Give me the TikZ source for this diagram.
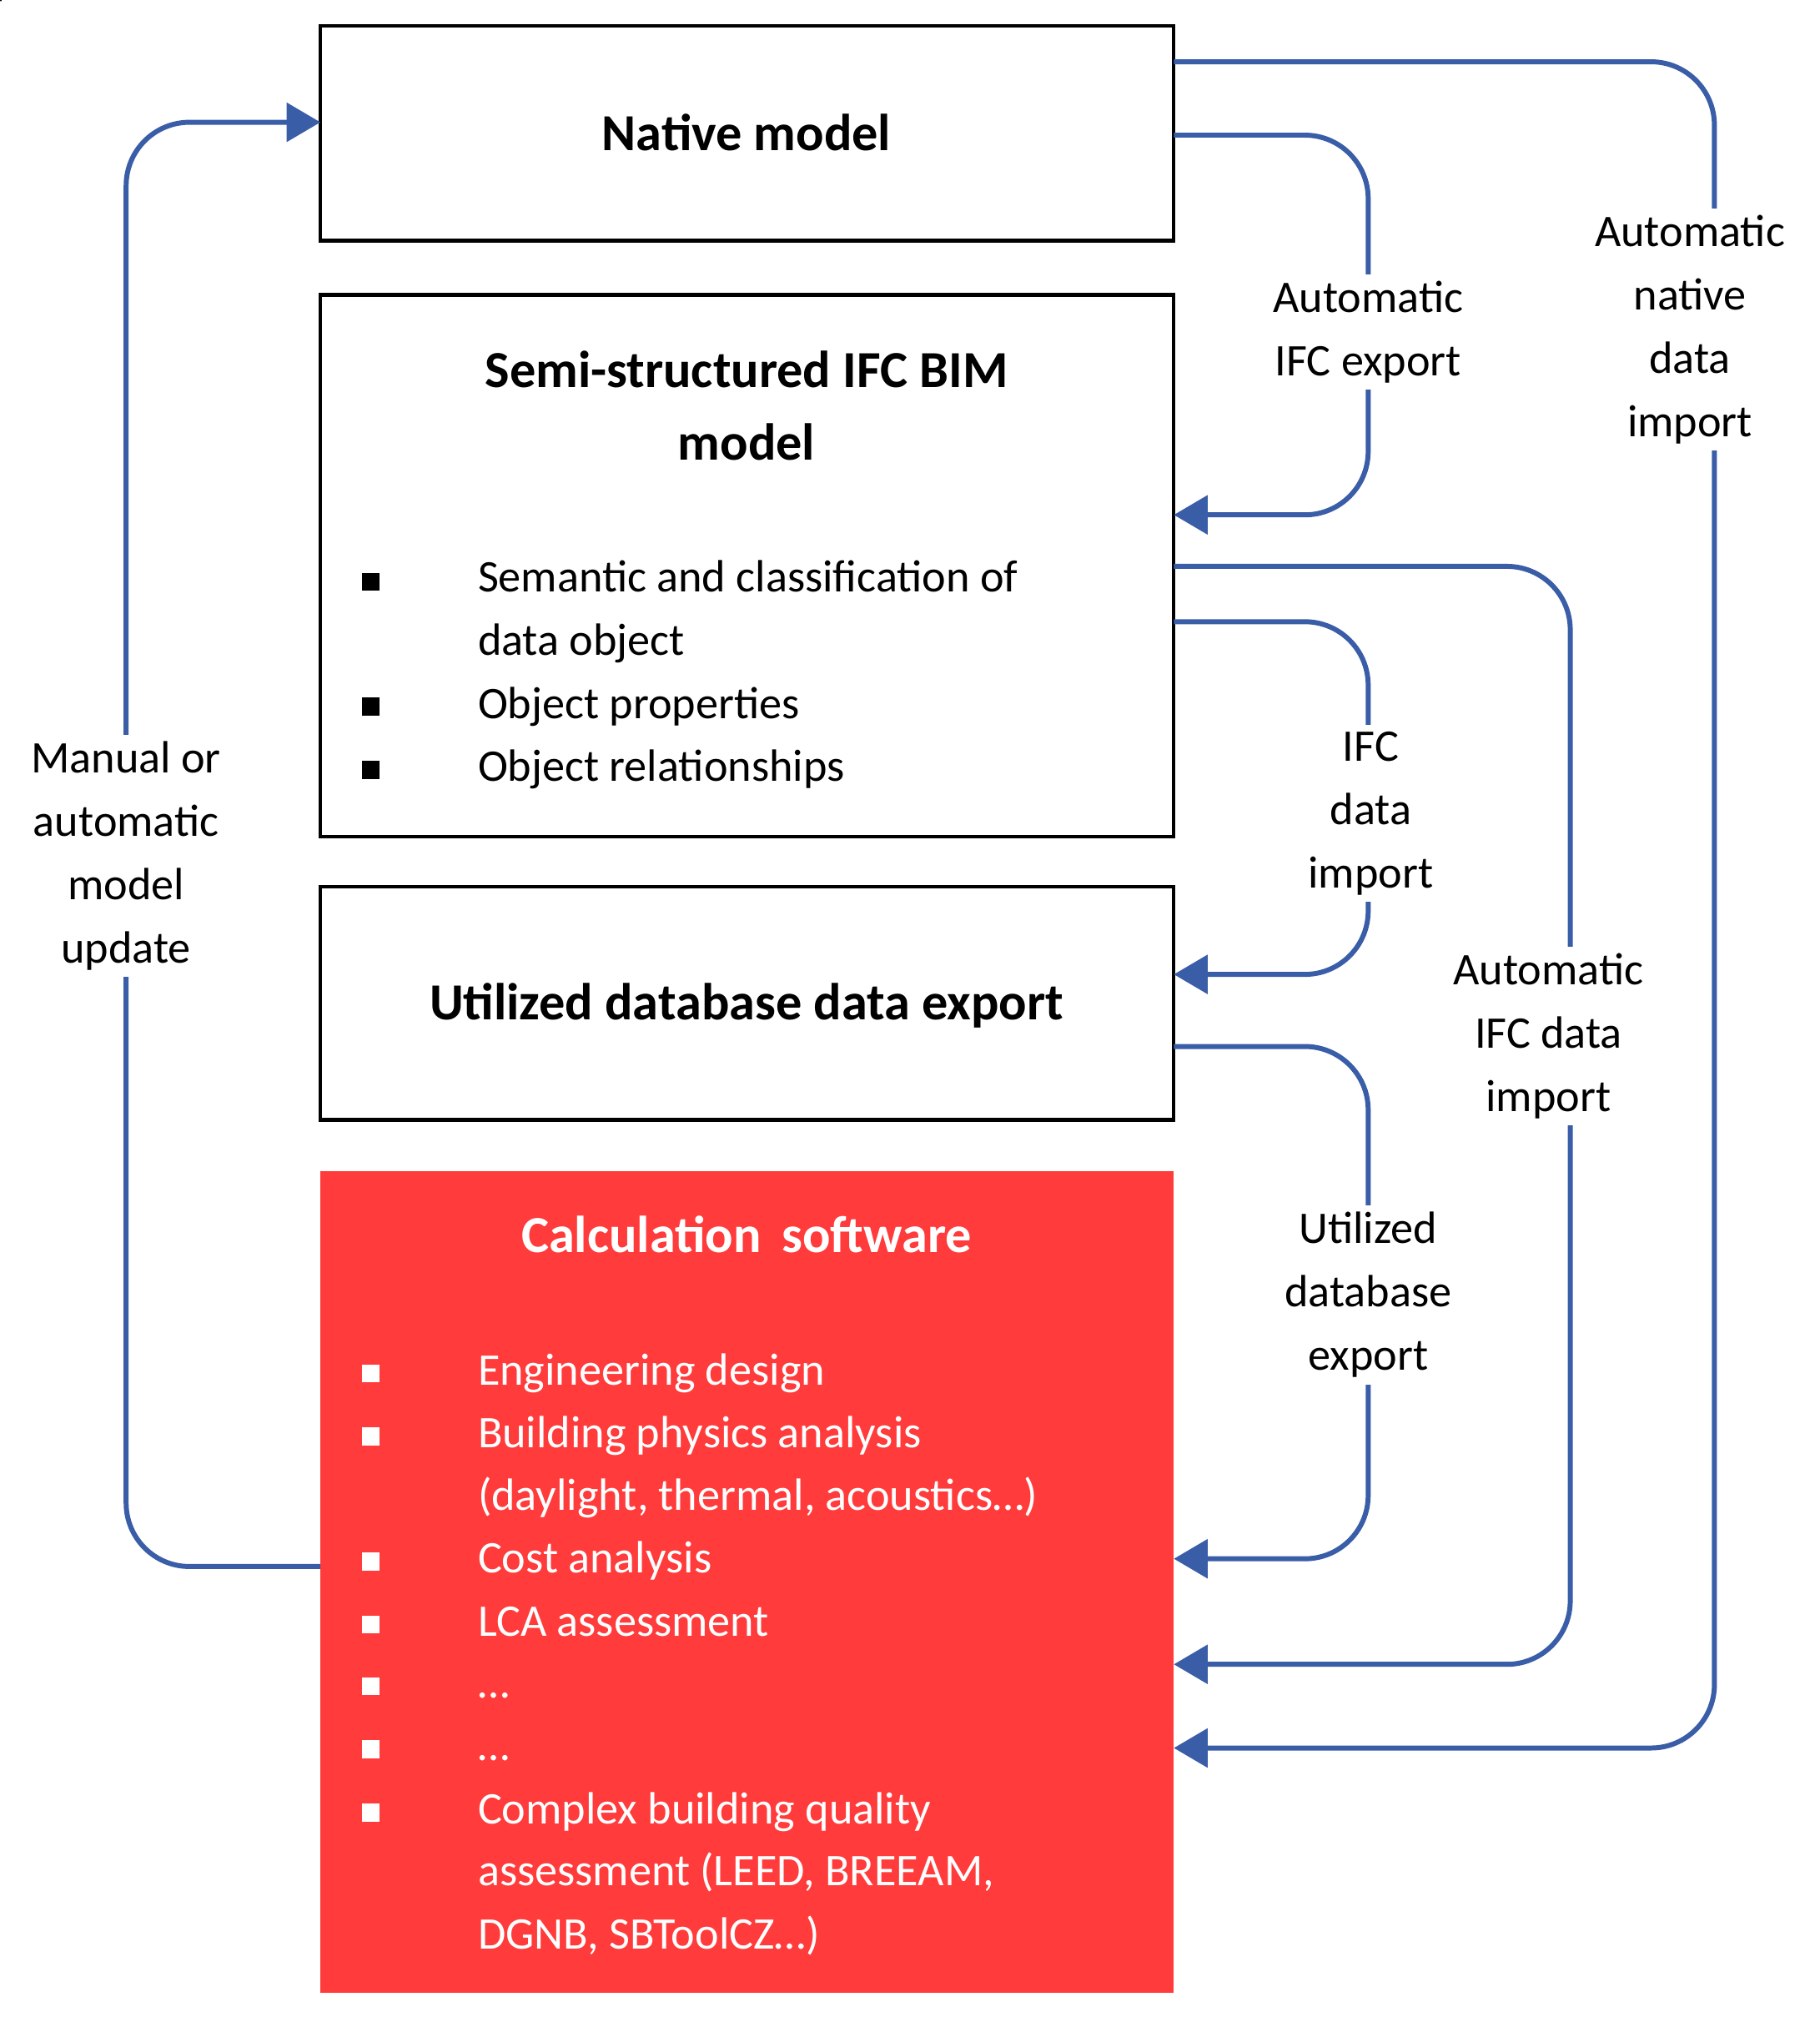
\documentclass[tikz,border=0pt]{standalone}
\usepackage{fontspec}
\setmainfont{Carlito}
\usetikzlibrary{arrows.meta}
\definecolor{ablue}{HTML}{3A5DA8}
\definecolor{cred}{HTML}{FF3B3B}
\begin{document}
\begin{tikzpicture}[x=0.02cm,y=-0.02cm,
 box/.style={draw=black,line width=1.6pt},
 conn/.style={draw=ablue,line width=2.2pt,rounded corners=28pt},
 arr/.style={conn,-{Triangle[length=15pt,width=17pt]}},
 lab/.style={fill=white,inner sep=3pt,align=center,font=\fontsize{20}{28}\selectfont},
 ttl/.style={font=\fontsize{23}{32}\selectfont\bfseries,align=center},
 txt/.style={anchor=base west,font=\fontsize{20}{28}\selectfont,inner sep=0pt},
 bul/.style={fill=#1,minimum size=8pt,inner sep=0pt}]
\useasboundingbox (0,0) rectangle (1414,1567);
\fill[cred] (249,910) rectangle (912,1548);
\node[box,minimum width=0,inner sep=0] (nat) at (0,0) {};
\draw[box] (249,20) rectangle (912,187);
\draw[box] (249,229) rectangle (912,650);
\draw[box] (249,689) rectangle (912,870);
\node[ttl] (t1) at (580,103) {Native model};
\node[ttl] (t2) at (580,315) {Semi-structured IFC BIM\\model};
\node[ttl] (t3) at (580,781) {Utilized database data export};
\node[ttl,text=white] (t4) at (580,959) {Calculation\, software};
\foreach \y/\t in {460/Semantic and classification of,509/data object,558/Object properties,607/Object relationships}
  \node[txt] at (371,\y) {\t};
\foreach \y in {452,549,598} \node[bul=black] at (288,\y) {};
\foreach \y/\t in {1076/Engineering design,1125/Building physics analysis,1173/{(daylight, thermal, acoustics…)},1222/Cost analysis,1271/LCA assessment,1319/…,1368/…,1417/Complex building quality,1465/{assessment (LEED, BREEAM,},1514/{DGNB, SBToolCZ…)}}
  \node[txt,text=white] at (371,\y) {\t};
\foreach \y in {1067,1116,1213,1262,1310,1359,1408} \node[bul=white] at (288,\y) {};
% connectors
\coordinate (a0) at (249,1217); \coordinate (a1) at (249,95);
\draw[arr] (a0) -- (98,1217) -- (98,95) -- (a1);
\node[lab] at (98,665) {Manual or\\automatic\\model\\update};
\coordinate (b0) at (912,105); \coordinate (b1) at (912,400);
\draw[arr] (b0) -- (1063,105) -- (1063,400) -- (b1);
\node[lab] at (1063,258) {Automatic\\IFC export};
\coordinate (c0) at (912,48); \coordinate (c1) at (912,1358);
\draw[arr] (c0) -- (1332,48) -- (1332,1358) -- (c1);
\node[lab] at (1313,256) {Automatic\\native\\data\\import};
\coordinate (d0) at (912,440); \coordinate (d1) at (912,1293);
\draw[arr] (d0) -- (1220,440) -- (1220,1293) -- (d1);
\node[lab] at (1203,805) {Automatic\\IFC data\\import};
\coordinate (e0) at (912,483); \coordinate (e1) at (912,757);
\draw[arr] (e0) -- (1063,483) -- (1063,757) -- (e1);
\node[lab] at (1065,632) {IFC\\data\\import};
\coordinate (f0) at (912,813); \coordinate (f1) at (912,1211);
\draw[arr] (f0) -- (1063,813) -- (1063,1211) -- (f1);
\node[lab] at (1063,1006) {Utilized\\database\\export};
\end{tikzpicture}
\end{document}
